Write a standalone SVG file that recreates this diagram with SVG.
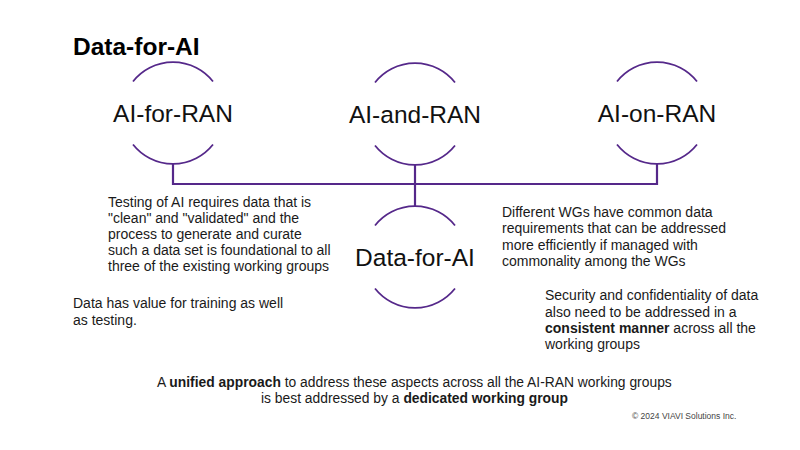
<svg xmlns="http://www.w3.org/2000/svg" width="800" height="450" viewBox="0 0 800 450">
<style>
.arc{fill:none;stroke:#55288a;stroke-width:1.8}
.con{fill:none;stroke:#55288a;stroke-width:2.2}
.lbl{font-family:"Liberation Sans",Arial,sans-serif;font-size:24.5px;fill:#111;text-anchor:middle}
.body{font-family:"Liberation Sans",Arial,sans-serif;font-size:14px;fill:#1a1a1a}
.b{font-weight:bold}
</style>
<rect width="800" height="450" fill="#fff"/>
<text x="73" y="55" font-family="Liberation Sans,Arial,sans-serif" font-size="24.5" font-weight="bold" fill="#000">Data-for-AI</text>
<g id="connectors">
<path class="con" d="M173 164 V184 H657 V164"/>
<path class="con" d="M415 165 V206"/>
</g>
<g id="ai-for-ran">
<path class="arc" d="M133 81.5 A51 51 0 0 1 213 81.5"/>
<path class="arc" d="M133 144.5 A51 51 0 0 0 213 144.5"/>
<text class="lbl" x="173" y="122">AI-for-RAN</text>
</g>
<g id="ai-and-ran">
<path class="arc" d="M375 82.5 A51 51 0 0 1 455 82.5"/>
<path class="arc" d="M375 145.5 A51 51 0 0 0 455 145.5"/>
<text class="lbl" x="415" y="123">AI-and-RAN</text>
</g>
<g id="ai-on-ran">
<path class="arc" d="M617 81.5 A51 51 0 0 1 697 81.5"/>
<path class="arc" d="M617 144.5 A51 51 0 0 0 697 144.5"/>
<text class="lbl" x="657" y="122">AI-on-RAN</text>
</g>
<g id="data-for-ai">
<path class="arc" d="M375 225.5 A51 51 0 0 1 455 225.5"/>
<path class="arc" d="M375 288.5 A51 51 0 0 0 455 288.5"/>
<text class="lbl" x="415" y="266">Data-for-AI</text>
</g>
<g id="notes">
<text class="body"><tspan x="108" y="207">Testing of AI requires data that is</tspan><tspan x="108" y="223">"clean" and "validated" and the</tspan><tspan x="108" y="239">process to generate and curate</tspan><tspan x="108" y="255">such a data set is foundational to all</tspan><tspan x="108" y="271">three of the existing working groups</tspan></text>
<text class="body"><tspan x="73" y="308">Data has value for training as well</tspan><tspan x="73" y="325">as testing.</tspan></text>
<text class="body"><tspan x="502" y="217">Different WGs have common data</tspan><tspan x="502" y="233">requirements that can be addressed</tspan><tspan x="502" y="250">more efficiently if managed with</tspan><tspan x="502" y="266">commonality among the WGs</tspan></text>
<text class="body"><tspan x="545" y="300">Security and confidentiality of data</tspan><tspan x="545" y="317">also need to be addressed in a</tspan><tspan x="545" y="333"><tspan class="b">consistent manner</tspan> across all the</tspan><tspan x="545" y="349">working groups</tspan></text>
<text class="body" font-size="13.85" style="font-size:13.85px"><tspan x="157" y="387">A <tspan class="b">unified approach</tspan> to address these aspects across all the AI-RAN working groups</tspan><tspan x="261" y="403">is best addressed by a <tspan class="b">dedicated working group</tspan></tspan></text>
<text x="632" y="419" font-family="Liberation Sans,Arial,sans-serif" font-size="8.5" fill="#444">© 2024 VIAVI Solutions Inc.</text>
</g>
</svg>
